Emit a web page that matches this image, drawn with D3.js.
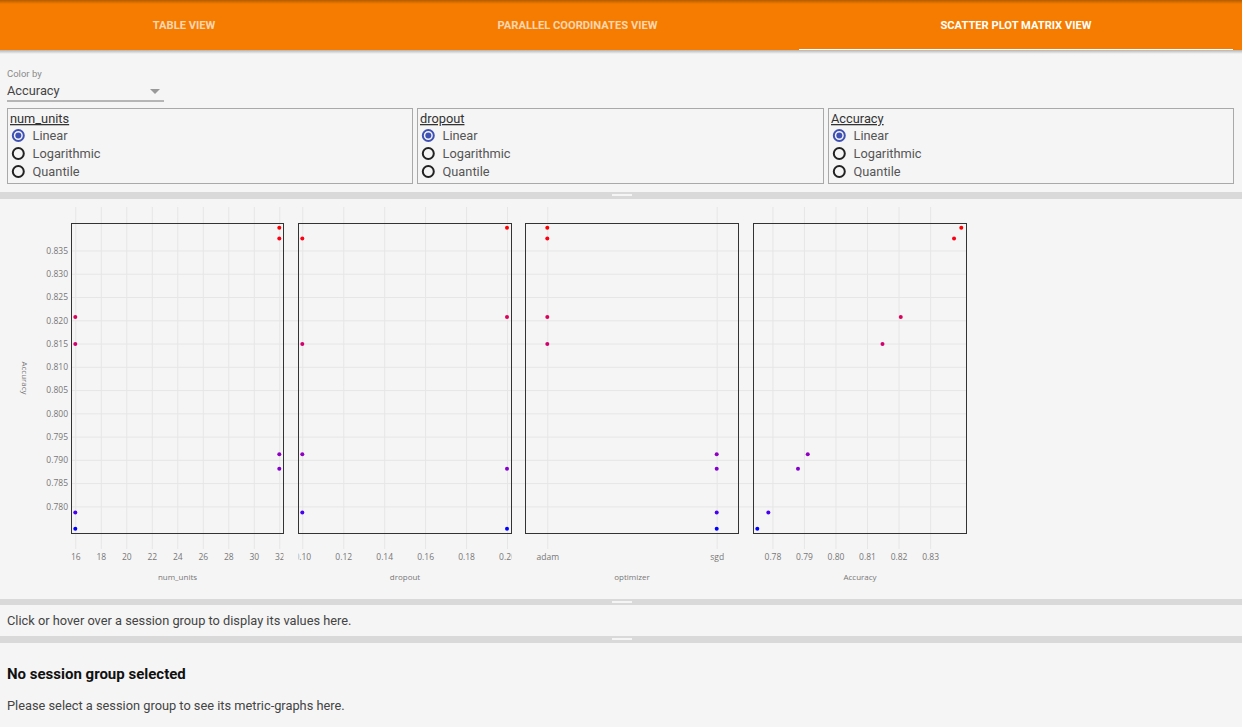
<!DOCTYPE html>
<html>
<head>
<meta charset="utf-8">
<title>Scatter plot matrix view</title>
<script src="https://cdn.jsdelivr.net/npm/d3@7"></script>
<style>
  html, body { margin: 0; padding: 0; background: #f5f5f5; overflow: hidden; }
  svg { display: block; }
  .ui { font-family: Roboto, sans-serif; }
  .tick text { font-family: "Open Sans", sans-serif; font-size: 8.5px; fill: #777; }
  .tick line { stroke: #e6e6e6; }
  .axis-title { font-family: "Open Sans", sans-serif; font-size: 8px; fill: #777; text-anchor: middle; }
</style>
</head>
<body>
<svg id="page" width="1242" height="727"></svg>
<script>
// session groups, sorted by accuracy
var accuracy = [0.8399, 0.8376, 0.8207, 0.8149, 0.7912, 0.7881, 0.7787, 0.7752];
var numUnits = [32, 32, 16, 16, 32, 32, 16, 16];
var dropout = [0.2, 0.1, 0.2, 0.1, 0.1, 0.2, 0.1, 0.2];
var optimizer = ['adam', 'adam', 'adam', 'adam', 'sgd', 'sgd', 'sgd', 'sgd'];

var numUnitsTicks = [16, 18, 20, 22, 24, 26, 28, 30, 32];
var dropoutTicks = [0.10, 0.12, 0.14, 0.16, 0.18, 0.20];
var optimizerTicks = ['adam', 'sgd'];
var accuracyTicks = [0.78, 0.79, 0.80, 0.81, 0.82, 0.83];
var yTicks = [0.78, 0.785, 0.79, 0.795, 0.80, 0.805, 0.81, 0.815, 0.82, 0.825, 0.83, 0.835];

var tabs = ['TABLE VIEW', 'PARALLEL COORDINATES VIEW', 'SCATTER PLOT MATRIX VIEW'];
var scaleNames = ['num_units', 'dropout', 'Accuracy'];
var scaleOptions = ['Linear', 'Logarithmic', 'Quantile'];

var svg = d3.select('#page');
var width = 1242, height = 727;

var defs = svg.append('defs');
function gradient(id, stops) {
  var g = defs.append('linearGradient').attr('id', id)
    .attr('x1', 0).attr('x2', 0).attr('y1', 0).attr('y2', 1);
  stops.forEach(function(s) {
    g.append('stop').attr('offset', s[0]).attr('stop-color', s[1]);
  });
}
gradient('tabTop', [[0, '#b25c00'], [1, '#f57c00']]);
gradient('tabShadow', [[0, '#b4b4b4'], [1, '#f5f5f5']]);

// tab bar
svg.append('rect').attr('width', width).attr('height', 50).attr('fill', '#f57c00');
svg.append('rect').attr('width', width).attr('height', 4).attr('fill', 'url(#tabTop)');
svg.append('rect').attr('y', 50).attr('width', width).attr('height', 4).attr('fill', 'url(#tabShadow)');

var tabX = [184, 577.5, 1016];
svg.selectAll('.tab').data(tabs).enter().append('text')
  .attr('class', 'tab ui')
  .attr('x', function(d, i) { return tabX[i]; })
  .attr('y', 29)
  .attr('text-anchor', 'middle')
  .attr('font-size', 11.15)
  .attr('font-weight', 700)
  .attr('fill', function(d, i) { return i == 2 ? '#fff' : 'rgba(255,255,255,0.7)'; })
  .text(function(d) { return d; });
svg.append('rect').attr('x', 799).attr('y', 49).attr('width', 434).attr('height', 1).attr('fill', '#fff');

// color by select
svg.append('text').attr('class', 'ui').attr('x', 7).attr('y', 77)
  .attr('font-size', 9.5).attr('fill', '#8a8a8a').text('Color by');
svg.append('text').attr('class', 'ui').attr('x', 7).attr('y', 95)
  .attr('font-size', 12.8).attr('fill', '#444').text('Accuracy');
svg.append('line').attr('x1', 7).attr('x2', 164).attr('y1', 101).attr('y2', 101)
  .attr('stroke', '#777');
svg.append('path').attr('d', 'M150 89h10l-5 5z').attr('fill', '#999');

// scale pickers
var boxX = [7.5, 417.5, 828.5];
var boxW = [405, 406, 405];
scaleNames.forEach(function(name, i) {
  var g = svg.append('g').attr('class', 'ui').attr('transform', 'translate(' + boxX[i] + ',108.5)');
  g.append('rect').attr('width', boxW[i]).attr('height', 75)
    .attr('fill', 'none').attr('stroke', '#a9a9a9');
  g.append('text').attr('x', 2.5).attr('y', 14.5).attr('font-size', 12.8).attr('fill', '#333')
    .attr('text-decoration', 'underline').text(name);
  scaleOptions.forEach(function(opt, j) {
    var cy = 27 + j * 18;
    g.append('circle').attr('cx', 10.8).attr('cy', cy).attr('r', 5.5).attr('fill', 'none')
      .attr('stroke', j == 0 ? '#3f51b5' : '#222').attr('stroke-width', 2);
    if (j == 0) g.append('circle').attr('cx', 10.8).attr('cy', cy).attr('r', 3).attr('fill', '#3f51b5');
    g.append('text').attr('x', 25).attr('y', cy + 4.5).attr('font-size', 12.8).attr('fill', '#555').text(opt);
  });
});

// dividers with their drag handles
var dividers = [192, 599, 636];
var dividerH = [7, 6, 7];
dividers.forEach(function(y, i) {
  svg.append('rect').attr('y', y).attr('width', width).attr('height', dividerH[i]).attr('fill', '#d9d9d9');
  svg.append('rect').attr('x', 612).attr('y', y + 2).attr('width', 20).attr('height', 2).attr('fill', '#f5f5f5');
});

// scatter matrix
var plotTop = 223.5, plotBottom = 533.5;
var y = d3.scaleLinear().domain(d3.extent(accuracy)).range([528.7, 227.7]);
var color = d3.scaleLinear().domain(d3.extent(accuracy)).range(['#0000ff', '#ff0000'])
  .interpolate(d3.interpolateLab);

var panels = [
  {title: 'num_units', values: numUnits, ticks: numUnitsTicks, left: 71.5, right: 283.5,
    x: d3.scaleLinear().domain(d3.extent(numUnits)).range([75.3, 279.3]), fmt: d3.format('d')},
  {title: 'dropout', values: dropout, ticks: dropoutTicks, left: 298.5, right: 511.5,
    x: d3.scaleLinear().domain(d3.extent(dropout)).range([302.3, 507]), fmt: d3.format('.2f')},
  {title: 'optimizer', values: optimizer, ticks: optimizerTicks, left: 525.5, right: 738.5,
    x: d3.scalePoint().domain(optimizerTicks).range([547.3, 716.7]), fmt: String},
  {title: 'Accuracy', values: accuracy, ticks: accuracyTicks, left: 753.5, right: 966.5,
    x: d3.scaleLinear().domain(d3.extent(accuracy)).range([757.3, 961.3]), fmt: d3.format('.2f')}
];

// horizontal grid and y labels, shared by the row
svg.append('g')
  .attr('transform', 'translate(71,0)')
  .call(d3.axisLeft(y).tickValues(yTicks).tickFormat(d3.format('.3f')).tickSize(-895).tickPadding(3))
  .call(function(g) { g.select('.domain').remove(); });

panels.forEach(function(p, i) {
  defs.append('clipPath').attr('id', 'clip' + i).append('rect')
    .attr('x', p.left).attr('y', 200).attr('width', p.right - p.left).attr('height', 370);

  svg.append('g')
    .attr('clip-path', 'url(#clip' + i + ')')
    .append('g')
    .attr('transform', 'translate(0,207)')
    .call(d3.axisBottom(p.x).tickValues(p.ticks).tickFormat(p.fmt).tickSize(342).tickPadding(5))
    .call(function(g) { g.select('.domain').remove(); });

  svg.append('rect')
    .attr('x', p.left).attr('y', plotTop)
    .attr('width', p.right - p.left).attr('height', plotBottom - plotTop)
    .attr('fill', 'none').attr('stroke', '#333');

  svg.append('g').selectAll('circle')
    .data(accuracy)
    .enter()
    .append('circle')
    .attr('cx', function(d, j) { return p.x(p.values[j]); })
    .attr('cy', function(d) { return y(d); })
    .attr('r', 2)
    .attr('fill', function(d) { return color(d); });

  svg.append('text').attr('class', 'axis-title')
    .attr('x', (p.left + p.right) / 2).attr('y', 580).text(p.title);
});

svg.append('text').attr('class', 'axis-title')
  .attr('transform', 'translate(22,378) rotate(90)').text('Accuracy');

// session group text
svg.append('text').attr('class', 'ui').attr('x', 7).attr('y', 625)
  .attr('font-size', 12.8).attr('fill', '#444')
  .text('Click or hover over a session group to display its values here.');
svg.append('text').attr('class', 'ui').attr('x', 7).attr('y', 679)
  .attr('font-size', 15).attr('font-weight', 700).attr('fill', '#111')
  .text('No session group selected');
svg.append('text').attr('class', 'ui').attr('x', 7).attr('y', 710)
  .attr('font-size', 12.8).attr('fill', '#444')
  .text('Please select a session group to see its metric-graphs here.');
</script>
</body>
</html>
